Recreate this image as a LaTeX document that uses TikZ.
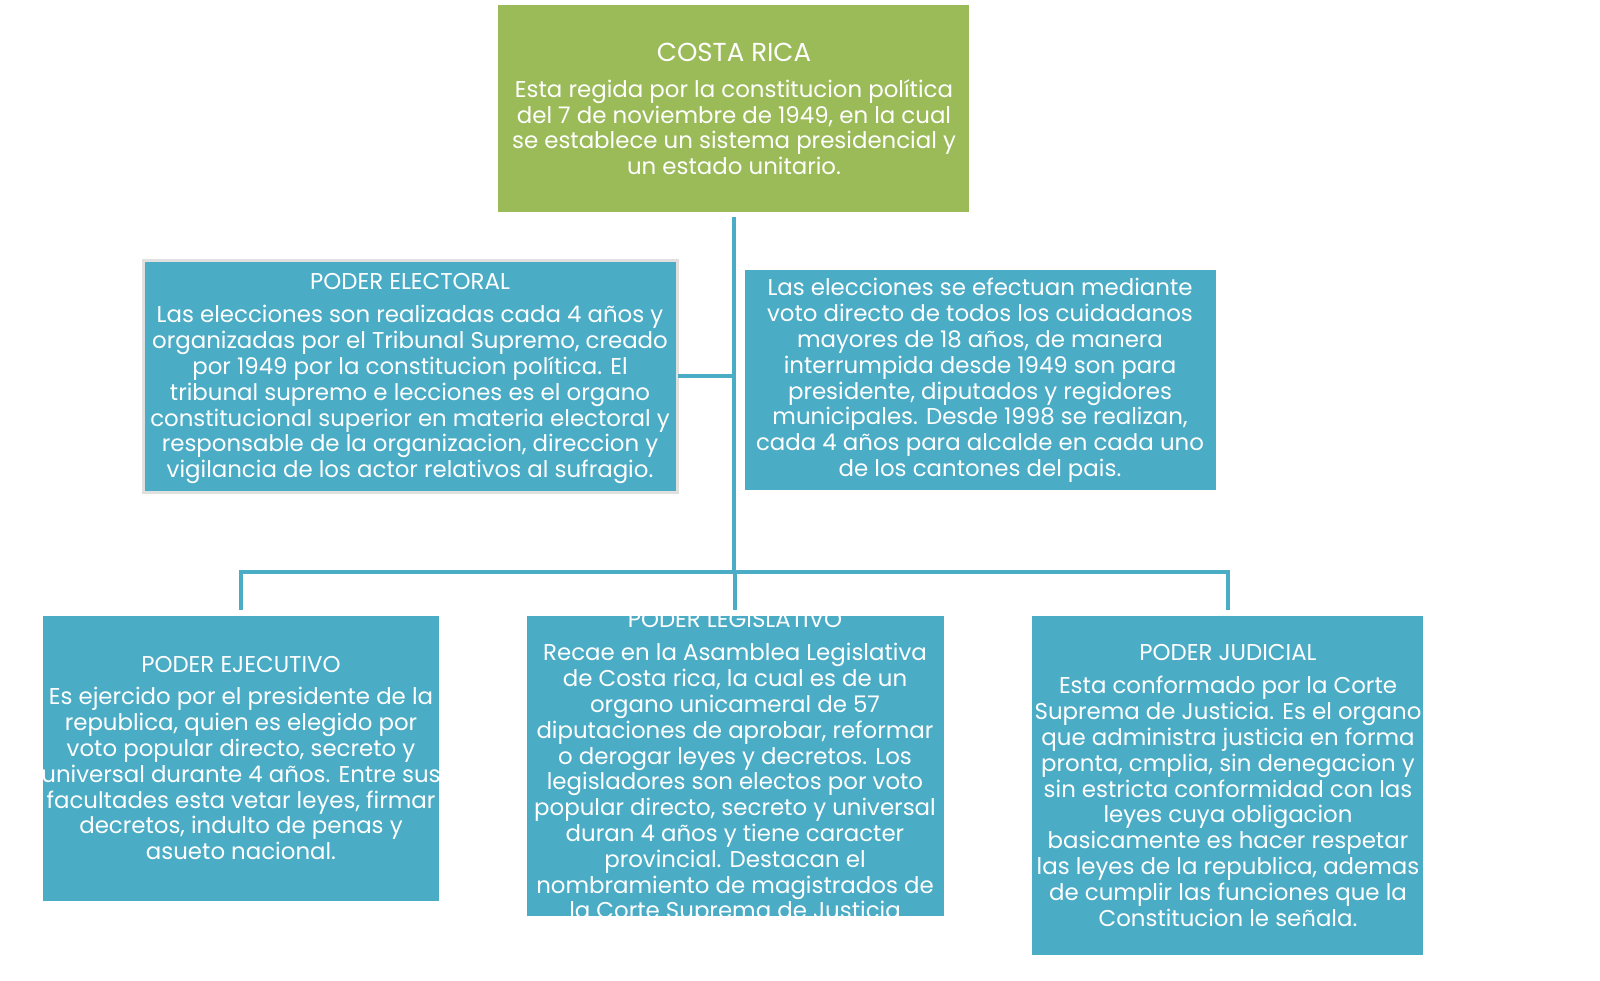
\documentclass[tikz,border=0pt]{standalone}
\usepackage{fontspec}
\setmainfont{Poppins}[Scale=1.04]
\definecolor{cgreen}{HTML}{9BBB59}
\definecolor{cblue}{HTML}{4BACC6}
\begin{document}
\begin{tikzpicture}[x=0.5pt,y=-0.5pt,
  txt/.style={text=white,align=center,font=\fontsize{11}{12.9}\selectfont,inner sep=0pt},
  conn/.style={draw=cblue,line width=2pt}]
\useasboundingbox (0,0) rectangle (1600,980);
% boxes
\fill[cgreen] (498,5) rectangle (969,212);
\node[coordinate] (top) at (734,212) {};
\node[txt,font=\fontsize{12.5}{14}\selectfont] at (734,52) {COSTA RICA};
\node[txt,anchor=north] at (734,79) {Esta regida por la constitucion política\\del 7 de noviembre de 1949, en la cual\\se establece un sistema presidencial y\\un estado unitario.};

\fill[cblue,draw=black!12,line width=1.5pt] (143,260) rectangle (677,492);
\node[coordinate] (ele) at (678,376) {};
\node[txt] at (410,281) {PODER ELECTORAL};
\node[txt,anchor=north] at (410,305) {Las elecciones son realizadas cada 4 años y\\organizadas por el Tribunal Supremo, creado\\por 1949 por la constitucion política. El\\tribunal supremo e lecciones es el organo\\constitucional superior en materia electoral y\\responsable de la organizacion, direccion y\\vigilancia de los actor relativos al sufragio.};

\fill[cblue] (745,270) rectangle (1216,490);
\node[txt,anchor=north] (vot) at (980,278) {Las elecciones se efectuan mediante\\voto directo de todos los cuidadanos\\mayores de 18 años, de manera\\interrumpida desde 1949 son para\\presidente, diputados y regidores\\municipales. Desde 1998 se realizan,\\cada 4 años para alcalde en cada uno\\de los cantones del pais.};

\fill[cblue] (43,616) rectangle (439,901);
\node[txt] at (241,664) {PODER EJECUTIVO};
\node[txt,anchor=north] at (241,687) {Es ejercido por el presidente de la\\republica, quien es elegido por\\voto popular directo, secreto y\\universal durante 4 años. Entre sus\\facultades esta vetar leyes, firmar\\decretos, indulto de penas y\\asueto nacional.};

\fill[cblue] (527,616) rectangle (944,916);
\begin{scope}
\clip (527,616) rectangle (944,916);
\node[txt] at (735,619) {PODER LEGISLATIVO};
\node[txt,anchor=north] at (735,643) {Recae en la Asamblea Legislativa\\de Costa rica, la cual es de un\\organo unicameral de 57\\diputaciones de aprobar, reformar\\o derogar leyes y decretos. Los\\legisladores son electos por voto\\popular directo, secreto y universal\\duran 4 años y tiene caracter\\provincial. Destacan el\\nombramiento de magistrados de\\la Corte Suprema de Justicia};
\end{scope}

\fill[cblue] (1032,616) rectangle (1423,955);
\node[txt] at (1228,652) {PODER JUDICIAL};
\node[txt,anchor=north] at (1228,676) {Esta conformado por la Corte\\Suprema de Justicia. Es el organo\\que administra justicia en forma\\pronta, cmplia, sin denegacion y\\sin estricta conformidad con las\\leyes cuya obligacion\\basicamente es hacer respetar\\las leyes de la republica, ademas\\de cumplir las funciones que la\\Constitucion le señala.};

% connectors
\coordinate (j) at (734,572);
\coordinate (e) at (734,376);
\coordinate (l) at (241,572);
\coordinate (r) at (1228,572);
\coordinate (ld) at (241,610);
\coordinate (md) at (735,610);
\coordinate (rd) at (1228,610);
\draw[conn] (734,217) -- (j);
\draw[conn] (ele) -- (e);
\draw[conn] (ld) -- (l) -- (r) -- (rd);
\draw[conn] (735,572) -- (md);
\end{tikzpicture}
\end{document}
